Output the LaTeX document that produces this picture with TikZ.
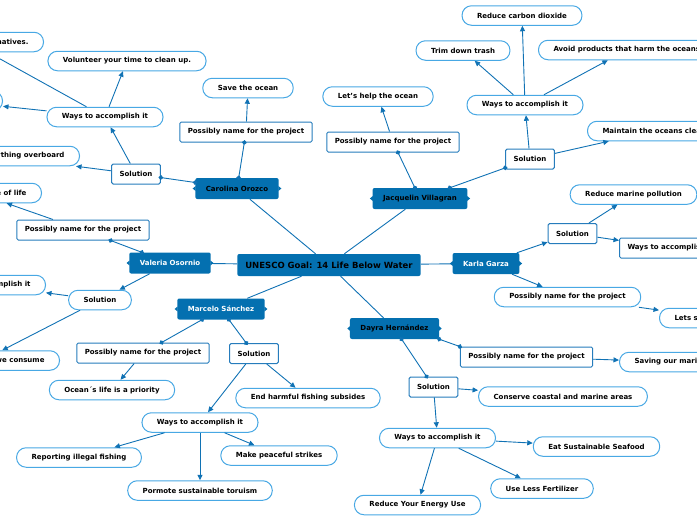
\documentclass[tikz,border=0pt]{standalone}
\usepackage{fontspec}
\setmainfont{DejaVu Sans}
\usetikzlibrary{arrows.meta}

\definecolor{topicblue}{RGB}{4,112,176}
\definecolor{linkblue}{RGB}{16,114,180}
\definecolor{boxblue}{RGB}{38,124,188}
\definecolor{leafblue}{RGB}{72,168,228}

\tikzset{
  goaltopic/.style={fill=topicblue, rounded corners=2pt, minimum height=22pt, inner xsep=8pt,
    font=\bfseries\fontsize{8.5}{10}\selectfont},
  persontopic/.style={fill=topicblue, rounded corners=2pt, minimum height=21pt, inner xsep=10.5pt,
    font=\bfseries\fontsize{7}{8}\selectfont},
  subbox/.style={draw=boxblue, fill=white, line width=1pt, rounded corners=1.5pt,
    minimum height=20pt, inner xsep=8pt, font=\bfseries\fontsize{7}{8}\selectfont},
  leafpill/.style={draw=leafblue, fill=white, line width=1pt, rounded corners=9.5pt,
    minimum height=19.5pt, inner xsep=15pt, font=\bfseries\fontsize{7}{8}\selectfont},
  branch/.style={draw=linkblue, line width=0.9pt},
  dotlink/.style={branch, {Circle[length=4.6pt]}-{Circle[length=4.6pt]}, shorten <=-2.3pt, shorten >=-2.3pt},
  arrowlink/.style={branch, -{Triangle[length=5.5pt,width=5pt]}}
}

\begin{document}
\begin{tikzpicture}[x=1pt,y=-1pt]
\useasboundingbox (0,0) rectangle (697,520);

% central goal
\node[goaltopic] (goal) at (329,265) {UNESCO Goal: 14 Life Below Water};

% Carolina
\node[persontopic] (carolina) at (237,188.5) {Carolina Orozco};
\node[subbox] (carname) at (246,132) {Possibly name for the project};
\node[leafpill] (carsave) at (248,88) {Save the ocean};
\node[subbox] (carsol) at (136,174) {Solution};
\node[leafpill] (carways) at (105,117) {Ways to accomplish it};
\node[leafpill] (carvol) at (127,61) {Volunteer your time to clean up.};
\node[leafpill, anchor=east] (caralt) at (44,42) {Choose reusable alternatives.};
\node[leafpill, anchor=east, minimum width=100pt] (carhid) at (3,101) {};
\node[leafpill, anchor=east] (carthrow) at (80,156) {Don't throw everything overboard};

% Valeria
\node[persontopic, text=white] (valeria) at (170,263) {Valeria Osornio};
\node[subbox] (valname) at (83,230) {Possibly name for the project};
\node[leafpill, anchor=east] (vallife) at (42,193) {Protect the source of life};
\node[leafpill] (valsol) at (100,300) {Solution};
\node[leafpill, anchor=east] (valways) at (46,285) {Ways to accomplish it};
\node[leafpill, anchor=east] (valcons) at (60,360.5) {Reduce the plastic we consume};

% Marcelo
\node[persontopic, text=white] (marcelo) at (221,309) {Marcelo Sánchez};
\node[subbox] (marname) at (143,353) {Possibly name for the project};
\node[leafpill] (marprio) at (112,390) {Ocean´s life is a priority};
\node[subbox] (marsol) at (254,353.5) {Solution};
\node[leafpill] (marend) at (308,398) {End harmful fishing subsides};
\node[leafpill] (marways) at (200,422.5) {Ways to accomplish it};
\node[leafpill] (marreport) at (79,457.5) {Reporting illegal fishing};
\node[leafpill] (martour) at (200,490.5) {Pormote sustainable toruism};
\node[leafpill] (marstrike) at (279,455.5) {Make peaceful strikes};

% Jacquelin
\node[persontopic] (jacquelin) at (420,198.5) {Jacquelin Villagran};
\node[subbox] (jacname) at (393,142) {Possibly name for the project};
\node[leafpill] (jachelp) at (378,96.5) {Let's help the ocean};
\node[subbox] (jacsol) at (530,159) {Solution};
\node[leafpill] (jacways) at (525,105) {Ways to accomplish it};
\node[leafpill] (jactrim) at (463,50.5) {Trim down trash};
\node[leafpill] (jaccarbon) at (522,15.5) {Reduce carbon dioxide};
\node[leafpill, anchor=west] (jacavoid) at (538,50) {Avoid products that harm the oceans};
\node[leafpill, anchor=west] (jacclean) at (587,131) {Maintain the oceans clean};

% Karla
\node[persontopic, text=white] (karla) at (486,263.5) {Karla Garza};
\node[subbox] (karsol) at (572.5,233.5) {Solution};
\node[leafpill] (karpoll) at (633.5,194.5) {Reduce marine pollution};
\node[subbox, anchor=west] (karways) at (619,248) {Ways to accomplish it};
\node[leafpill] (karname) at (567.5,297) {Possibly name for the project};
\node[leafpill, anchor=west] (karsave) at (659,318) {Lets save the ocean};

% Dayra
\node[persontopic] (dayra) at (394.5,328.5) {Dayra Hernández};
\node[subbox] (dayname) at (526.5,357) {Possibly name for the project};
\node[leafpill, anchor=west] (daysave) at (619,362) {Saving our marine life};
\node[subbox] (daysol) at (433.5,387) {Solution};
\node[leafpill] (dayconserve) at (563,396.5) {Conserve coastal and marine areas};
\node[leafpill] (dayways) at (437.5,438) {Ways to accomplish it};
\node[leafpill] (dayseafood) at (596.5,446.5) {Eat Sustainable Seafood};
\node[leafpill] (dayfert) at (542,488.5) {Use Less Fertilizer};
\node[leafpill] (dayenergy) at (417.5,505) {Reduce Your Energy Use};

% goal to people, with the small side marks
\foreach \who in {carolina,jacquelin,valeria,karla,marcelo,dayra}{
  \draw[branch] (goal) -- (\who);
  \fill[topicblue] (\who.west) ++(0.5,-2.5) -- ++(-3,2.5) -- ++(3,2.5) -- cycle;
  \fill[topicblue] (\who.east) ++(-0.5,-2.5) -- ++(3,2.5) -- ++(-3,2.5) -- cycle;
}

% Carolina links
\draw[dotlink] (carolina) -- (carsol);
\draw[dotlink] (carolina) -- (carname);
\draw[arrowlink] (carname) -- (carsave);
\draw[arrowlink] (carsol) -- (carways);
\draw[arrowlink] (carsol) -- (carthrow);
\foreach \to in {carvol,caralt,carhid}
  \draw[arrowlink] (carways) -- (\to);

% Valeria links
\draw[dotlink] (valeria) -- (valname);
\draw[arrowlink] (valeria) -- (valsol);
\draw[arrowlink] (valname) -- (vallife);
\draw[arrowlink] (valsol) -- (valways);
\draw[arrowlink] (valsol) -- (valcons);

% Marcelo links
\draw[dotlink] (marcelo) -- (marname);
\draw[dotlink] (marcelo) -- (marsol);
\draw[arrowlink] (marname) -- (marprio);
\draw[arrowlink] (marsol) -- (marways);
\draw[arrowlink] (marsol) -- (marend);
\foreach \to in {marreport,martour,marstrike}
  \draw[arrowlink] (marways) -- (\to);

% Jacquelin links
\draw[dotlink] (jacquelin) -- (jacname);
\draw[dotlink] (jacquelin) -- (jacsol);
\draw[arrowlink] (jacname) -- (jachelp);
\draw[arrowlink] (jacsol) -- (jacways);
\draw[arrowlink] (jacsol) -- (jacclean);
\foreach \to in {jactrim,jaccarbon,jacavoid}
  \draw[arrowlink] (jacways) -- (\to);

% Karla links
\draw[arrowlink] (karla) -- (karsol);
\draw[arrowlink] (karla) -- (karname);
\draw[arrowlink] (karsol) -- (karpoll);
\draw[arrowlink] (karsol) -- (karways);
\draw[arrowlink] (karname) -- (karsave);

% Dayra links
\draw[dotlink] (dayra) -- (daysol);
\draw[dotlink] (dayra.south east) -- (dayname.north west);
\draw[arrowlink] (dayname) -- (daysave);
\draw[arrowlink] (daysol) -- (dayconserve);
\draw[arrowlink] (daysol) -- (dayways);
\foreach \to in {dayseafood,dayfert,dayenergy}
  \draw[arrowlink] (dayways) -- (\to);
\end{tikzpicture}
\end{document}
